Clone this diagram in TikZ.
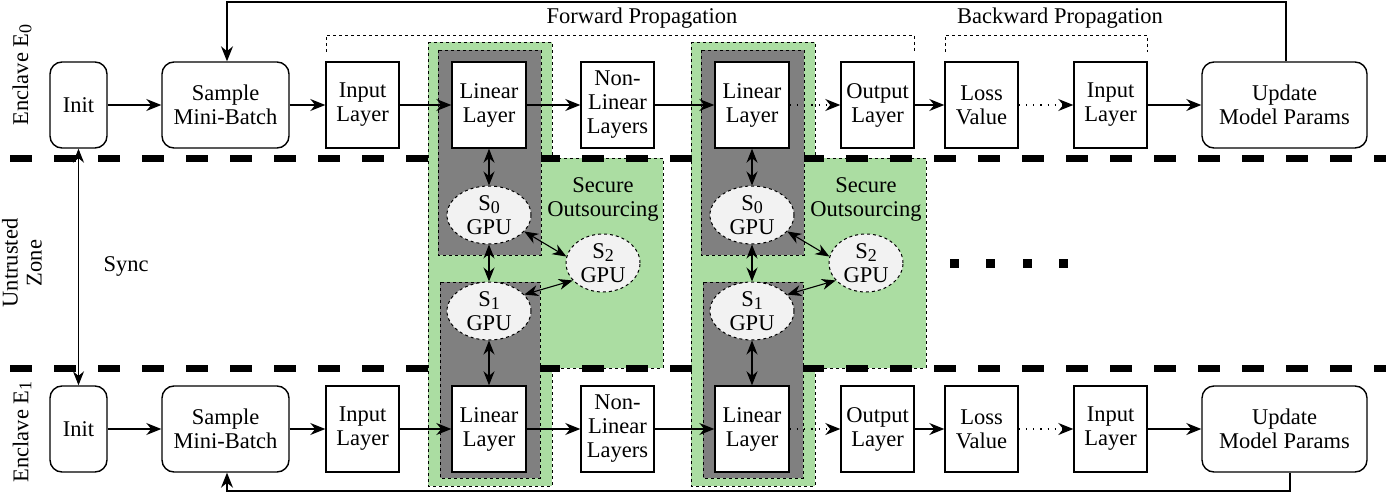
\documentclass[tikz,border=0pt]{standalone}
\usepackage{fontspec}
\setmainfont{Liberation Serif}
\usetikzlibrary{arrows.meta,shapes.geometric}
\definecolor{grn}{HTML}{ABDDA2}
\definecolor{gry}{HTML}{808080}
\definecolor{egg}{HTML}{F2F2F2}
\newcommand{\sbx}[1]{\raisebox{-0.3ex}{\fontsize{18}{18}\selectfont #1}}
\begin{document}
\begin{tikzpicture}[x=1pt,y=-1pt,
  every node/.style={font=\fontsize{22.5}{24}\selectfont, align=center, inner sep=0pt},
  box/.style={draw, line width=1.4pt, minimum height=86pt},
  rbox/.style={box, rounded corners=12pt},
  gpu/.style={ellipse, draw, dashed, fill=egg, line width=1pt, minimum width=84pt, minimum height=58pt},
  arr/.style={line width=1.1pt, -{Stealth[length=15pt,width=12pt]}},
  dots/.style={dash pattern=on 1.2pt off 6pt},
  darr/.style={line width=1.1pt, {Stealth[length=14pt,width=11pt]}-{Stealth[length=14pt,width=11pt]}},
  zone/.style={line width=7pt, dash pattern=on 22pt off 22pt},
  reg/.style={dashed, line width=0.9pt}]
\useasboundingbox (0,0) rectangle (1386,495);
\foreach \dx in {0,263}{
  \begin{scope}[xshift=\dx]
  \fill[grn] (428,42) rectangle (552,486);
  \fill[grn] (545,158) rectangle (663,368);
  \end{scope}}
\coordinate (z0a) at (10,158); \coordinate (z0b) at (1386,158);
\coordinate (z1a) at (10,368); \coordinate (z1b) at (1386,368);
\draw[zone] (z0a) -- (z0b);
\draw[zone] (z1a) -- (z1b);
\foreach \dx in {0,263}{
  \begin{scope}[xshift=\dx]
  \draw[reg] (428,42) -- (552,42) -- (552,158) -- (663,158) -- (663,368) -- (552,368) -- (552,486) -- (428,486) -- cycle;
  \draw[reg, fill=gry] (438,50) rectangle (541,255);
  \draw[reg, fill=gry] (440,282) rectangle (540,478);
  \end{scope}}
% top row
\node[rbox, minimum width=57pt] (i0) at (78.5,105) {Init};
\node[rbox, minimum width=127pt] (s0) at (225.5,105) {Sample\\Mini-Batch};
\node[box, minimum width=73pt] (in0) at (362.5,105) {Input\\Layer};
\node[box, minimum width=74pt, fill=white] (la0) at (489,105) {Linear\\Layer};
\node[box, minimum width=73pt] (n0) at (617.5,105) {Non-\\Linear\\Layers};
\node[box, minimum width=74pt, fill=white] (lb0) at (752,105) {Linear\\Layer};
\node[box, minimum width=73pt] (o0) at (877.5,105) {Output\\Layer};
\node[box, minimum width=73pt] (lv0) at (981.5,105) {Loss\\Value};
\node[box, minimum width=73pt] (ib0) at (1110.5,105) {Input\\Layer};
\node[rbox, minimum width=165pt] (u0) at (1284.5,105) {Update\\Model Params};
% bottom row
\node[rbox, minimum width=57pt] (i1) at (78.5,429) {Init};
\node[rbox, minimum width=127pt] (s1) at (225.5,429) {Sample\\Mini-Batch};
\node[box, minimum width=73pt] (in1) at (362.5,429) {Input\\Layer};
\node[box, minimum width=74pt, fill=white] (la1) at (489,429) {Linear\\Layer};
\node[box, minimum width=73pt] (n1) at (617.5,429) {Non-\\Linear\\Layers};
\node[box, minimum width=74pt, fill=white] (lb1) at (752,429) {Linear\\Layer};
\node[box, minimum width=73pt] (o1) at (877.5,429) {Output\\Layer};
\node[box, minimum width=73pt] (lv1) at (981.5,429) {Loss\\Value};
\node[box, minimum width=73pt] (ib1) at (1110.5,429) {Input\\Layer};
\node[rbox, minimum width=165pt] (u1) at (1284.5,429) {Update\\Model Params};
\foreach \r in {0,1}{
  \draw[arr] (i\r) -- (s\r);
  \draw[arr] (s\r) -- (in\r);
  \draw[arr] (in\r) -- (la\r);
  \draw[arr] (la\r) -- (n\r);
  \draw[arr] (n\r) -- (lb\r);
  \draw[arr, dots] (lb\r) -- (o\r);
  \draw[arr] (o\r) -- (lv\r);
  \draw[arr, dots] (lv\r) -- (ib\r);
  \draw[arr] (ib\r) -- (u\r);
}
% GPUs
\node[gpu] (g0a) at (489,215) {S\sbx{0}\\GPU};
\node[gpu] (g1a) at (489,311) {S\sbx{1}\\GPU};
\node[gpu, minimum width=74pt] (g2a) at (603,263) {S\sbx{2}\\GPU};
\node[gpu] (g0b) at (752,215) {S\sbx{0}\\GPU};
\node[gpu] (g1b) at (752,311) {S\sbx{1}\\GPU};
\node[gpu, minimum width=74pt] (g2b) at (866,263) {S\sbx{2}\\GPU};
\node (soa) at (603,199) {Secure\\Outsourcing};
\node (sob) at (866,199) {Secure\\Outsourcing};
\draw[darr] (la0) -- (g0a);
\draw[darr] (g1a) -- (la1);
\draw[darr] (lb0) -- (g0b);
\draw[darr] (g1b) -- (lb1);
\foreach \c in {a,b}{
  \draw[darr] (g0\c) -- (g1\c);
  \draw[darr] (g0\c.-25) -- (g2\c.170);
  \draw[darr] (g1\c.25) -- (g2\c.-150);
}
% feedback
\coordinate (t1) at (1286,2); \coordinate (t2) at (227,2);
\draw[arr] (u0.north -| t1) -- (t1) -- (t2) -- (s0.north -| t2);
\coordinate (b1) at (1290,491); \coordinate (b2) at (227,491);
\draw[arr] (u1.south -| b1) -- (b1) -- (b2) -- (s1.south -| b2);
% sync
\draw[darr] (i0) -- (i1);
\node (sync) at (126,266) {Sync};
% propagation brackets
\node (fp) at (642,18) {Forward Propagation};
\node (bp) at (1060,18) {Backward Propagation};
\coordinate (f1) at (326,52); \coordinate (f2) at (326,35); \coordinate (f3) at (914,35); \coordinate (f4) at (914,52);
\draw[reg] (f1) -- (f2) -- (f3) -- (f4);
\coordinate (k1) at (945,52); \coordinate (k2) at (945,35); \coordinate (k3) at (1147,35); \coordinate (k4) at (1147,52);
\draw[reg] (k1) -- (k2) -- (k3) -- (k4);
% side labels
\node[rotate=90] (e0) at (22,75) {Enclave E\sbx{0}};
\node[rotate=90] (uz) at (22,263) {Untrusted\\Zone};
\node[rotate=90] (e1) at (22,432) {Enclave E\sbx{1}};
\foreach \x in {954,990,1027,1063}
  \fill (\x-4.5,258.5) rectangle (\x+4.5,267.5);
\end{tikzpicture}
\end{document}
